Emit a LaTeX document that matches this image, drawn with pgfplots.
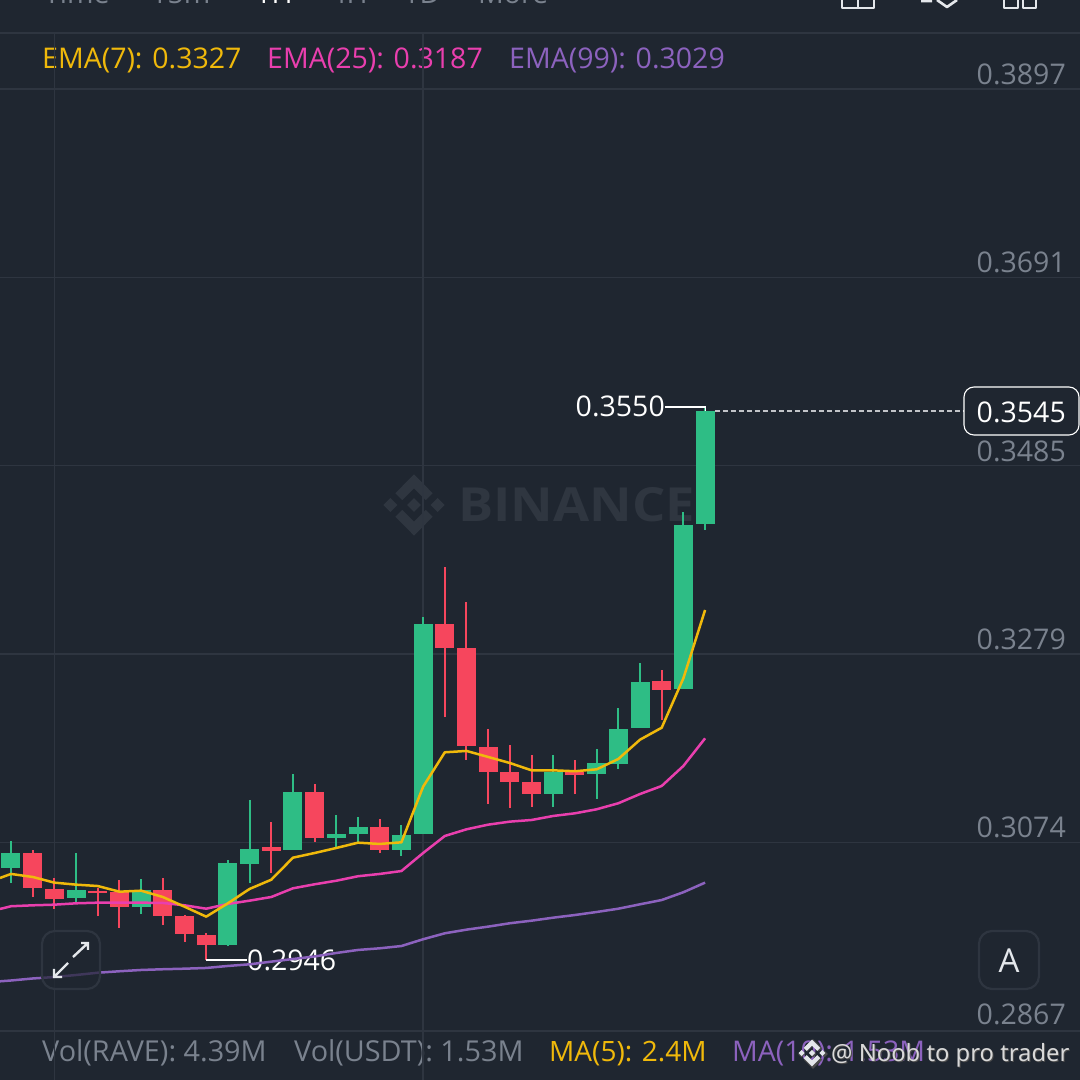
\documentclass[border=0pt]{standalone}
\usepackage{fontspec}
\setmainfont{Open Sans}
\newfontfamily\wmfont{Noto Sans}
\usepackage{graphicx}
\usepackage{pgfplots}
\pgfplotsset{compat=1.18}
\definecolor{bg}{HTML}{1F2630}
\definecolor{gridc}{HTML}{2E3540}
\definecolor{up}{HTML}{2EBD85}
\definecolor{dn}{HTML}{F6465D}
\definecolor{ema7}{HTML}{F0B90B}
\definecolor{ema25}{HTML}{E93FAE}
\definecolor{ema99}{HTML}{8C62BE}
\definecolor{dim}{HTML}{7A828E}
\definecolor{wmc}{HTML}{2F3640}
\definecolor{iconw}{HTML}{E4E7EB}
% candle: colour, index, low, bottom of body, top of body, high
\newcommand\candle[6]{%
\addplot[#1,line width=2pt,line cap=butt] coordinates {(#2,#3)(#2,#6)};%
\addplot[#1,line width=19pt,line cap=butt] coordinates {(#2,#4)(#2,#5)};}
\newcommand\fs[1]{\fontsize{#1}{#1}\selectfont}
% Binance logo: centre x, centre y, scale, colour
\newcommand\binlogo[4]{\begin{scope}[shift={(#1pt,-#2pt)},x=#3pt,y=#3pt]
\fill[#4] (-24.57,10.1)--(0,34.67)--(24.58,10.09)--(38.87,24.38)--(0,63.3)--(-38.86,24.4)--cycle;
\fill[#4] (-24.57,-10.11)--(0,-34.68)--(24.58,-10.11)--(38.88,-24.39)--(0,-63.3)--(-38.86,-24.41)--cycle;
\fill[#4] (-63.3,0)--(-49,14.3)--(-34.7,0)--(-49,-14.3)--cycle;
\fill[#4] (63.3,0)--(49,14.3)--(34.7,0)--(49,-14.3)--cycle;
\fill[#4] (-14.3,0)--(0,14.3)--(14.3,0)--(0,-14.3)--cycle;
\end{scope}}
\begin{document}
\begin{tikzpicture}
\clip (0pt,0pt) rectangle (1080pt,1080pt);
\fill[bg] (0pt,0pt) rectangle (1080pt,1080pt);
\begin{scope}[yshift=1080pt]
\binlogo{414}{505}{0.482}{wmc}
\end{scope}
\begin{scope}[x=1pt,y=-1pt,yshift=1080pt]
\node[anchor=base west,inner sep=0pt,text=wmc] at (458,522) {\fs{47}\bfseries\scalebox{1.115}[1]{BINANCE}};
\draw[gridc,line width=2.5pt] (0,33)--(1080,33);
% top bar
\node[anchor=base west,inner sep=0pt,text=dim] at (44,3.5) {\fs{28.5}Time};
\node[anchor=base west,inner sep=0pt,text=dim] at (151,3.5) {\fs{28.5}15m};
\node[anchor=base west,inner sep=0pt,text=white] at (255,3.5) {\fs{28.5}1H};
\node[anchor=base west,inner sep=0pt,text=dim] at (330,3.5) {\fs{28.5}4H};
\node[anchor=base west,inner sep=0pt,text=dim] at (403,3.5) {\fs{28.5}1D};
\node[anchor=base west,inner sep=0pt,text=dim] at (478,3.5) {\fs{28.5}More};
\draw[iconw,line width=2.6pt,line join=round] (842,0)--(842,8)--(858,8)--(858,0) (858,8)--(874,8)--(874,0);
\draw[iconw,line width=2.6pt,line join=round] (921,1)--(932,1) (937,0)--(947,7)--(957,0);
\draw[iconw,line width=2.6pt,line join=round] (1004,0)--(1004,8)--(1018,8)--(1018,0) (1023,0)--(1023,8)--(1036,8)--(1036,0);
% legend
\node[anchor=base west,inner sep=0pt,text=ema7] at (42,69) {\fs{28.5}EMA(7): 0.3327};
\node[anchor=base west,inner sep=0pt,text=ema25] at (267,69) {\fs{28.5}EMA(25): 0.3187};
\node[anchor=base west,inner sep=0pt,text=ema99] at (509,69) {\fs{28.5}EMA(99): 0.3029};
% price axis
\foreach \b/\t in {85/0.3897,273/0.3691,462/0.3485,650/0.3279,838/0.3074,1024/0.2867}
  \node[anchor=base east,inner sep=0pt,text=dim] at (1066,\b) {\fs{28.5}\t};
% value labels
\node[anchor=base west,inner sep=0pt,text=white] at (247,971) {\fs{28.5}0.2946};
\node[anchor=base east,inner sep=0pt,text=white] at (665,417) {\fs{28.5}0.3550};
% bottom row
\node[anchor=base west,inner sep=0pt,text=dim] at (42,1061) {\fs{28.8}Vol(RAVE): 4.39M};
\node[anchor=base west,inner sep=0pt,text=dim] at (294,1061) {\fs{28.8}Vol(USDT): 1.53M};
\node[anchor=base west,inner sep=0pt,text=ema7] at (549,1061) {\fs{28}MA(5): 2.4M};
\node[anchor=base west,inner sep=0pt,text=ema99] at (732,1061) {\fs{28.5}MA(10): 1.53M};
\end{scope}
\begin{axis}[
  at={(0pt,0pt)},anchor=south west,
  scale only axis,width=1080pt,height=1047pt,
  xmin=-0.507,xmax=49.285,ymin=0.28134,ymax=0.39582,
  axis line style={draw=none},
  xtick={2,19},ytick={0.2867,0.3073,0.3279,0.3485,0.3691,0.3897},
  xticklabels={},yticklabels={},
  major tick length=0pt,
  grid=major,grid style={gridc,line width=1.4pt},
]
\candle{up}{0}{.30288}{.30456}{.30616}{.30748}
\candle{dn}{1}{.30135}{.30237}{.30616}{.30649}
\candle{dn}{2}{.30004}{.30113}{.30223}{.30343}
\candle{up}{3}{.30081}{.30124}{.30212}{.30616}
\candle{dn}{4}{.29927}{.30176}{.30201}{.30234}
\candle{dn}{5}{.29796}{.30026}{.30190}{.30321}
\candle{up}{6}{.29949}{.30026}{.30212}{.30332}
\candle{dn}{7}{.29829}{.29927}{.30212}{.30343}
\candle{dn}{8}{.29643}{.29731}{.29927}{.29938}
\candle{dn}{9}{.29446}{.29610}{.29720}{.29742}
\candle{up}{10}{.29599}{.29610}{.30507}{.30540}
\candle{up}{11}{.30288}{.30496}{.30660}{.31196}
\candle{dn}{12}{.30398}{.30638}{.30682}{.30955}
\candle{up}{13}{.30649}{.30649}{.31283}{.31480}
\candle{dn}{14}{.30737}{.30780}{.31283}{.31371}
\candle{up}{15}{.30682}{.30780}{.30824}{.31032}
\candle{up}{16}{.30737}{.30824}{.30901}{.31010}
\candle{dn}{17}{.30616}{.30649}{.30901}{.30991}
\candle{up}{18}{.30583}{.30649}{.30813}{.30922}
\candle{up}{19}{.30824}{.30824}{.33120}{.33197}
\candle{dn}{20}{.32103}{.32858}{.33120}{.33743}
\candle{dn}{21}{.31633}{.31786}{.32858}{.33361}
\candle{dn}{22}{.31152}{.31502}{.31775}{.31972}
\candle{dn}{23}{.31108}{.31393}{.31502}{.31797}
\candle{dn}{24}{.31119}{.31261}{.31393}{.31688}
\candle{up}{25}{.31119}{.31261}{.31502}{.31688}
\candle{dn}{26}{.31261}{.31469}{.31502}{.31633}
\candle{up}{27}{.31207}{.31480}{.31600}{.31753}
\candle{up}{28}{.31535}{.31589}{.31972}{.32202}
\candle{up}{29}{.31983}{.31983}{.32486}{.32694}
\candle{dn}{30}{.32071}{.32399}{.32497}{.32617}
\candle{up}{31}{.32409}{.32409}{.34203}{.34345}
\candle{up}{32}{.34148}{.34214}{.35449}{.35493}
% EMA(99)
\addplot[ema99,line width=2.5pt,line join=round] coordinates {(-0.507,.29213)(0,.29222)(1,.29244)(2,.29260)(3,.29282)(4,.29307)(5,.29323)(6,.29337)(7,.29345)(8,.29351)(9,.29359)(10,.29381)(11,.29399)(12,.29428)(13,.29457)(14,.29485)(15,.29523)(16,.29556)(17,.29574)(18,.29599)(19,.29673)(20,.29738)(21,.29778)(22,.29811)(23,.29848)(24,.29876)(25,.29909)(26,.29938)(27,.29971)(28,.30007)(29,.30055)(30,.30102)(31,.30187)(32,.30292)};
% EMA(25)
\addplot[ema25,line width=2.5pt,line join=round] coordinates {(-0.507,.30004)(0,.30034)(1,.30044)(2,.30051)(3,.30066)(4,.30073)(5,.30073)(6,.30073)(7,.30070)(8,.30044)(9,.30007)(10,.30059)(11,.30095)(12,.30135)(13,.30230)(14,.30274)(15,.30313)(16,.30362)(17,.30387)(18,.30419)(19,.30616)(20,.30802)(21,.30875)(22,.30926)(23,.30959)(24,.30977)(25,.31021)(26,.31050)(27,.31094)(28,.31160)(29,.31261)(30,.31349)(31,.31568)(32,.31870)};
% EMA(7)
\addplot[ema7,line width=2.5pt,line join=round] coordinates {(-0.507,.30343)(0,.30387)(1,.30354)(2,.30292)(3,.30270)(4,.30255)(5,.30193)(6,.30204)(7,.30135)(8,.30029)(9,.29920)(10,.30066)(11,.30223)(12,.30324)(13,.30565)(14,.30616)(15,.30671)(16,.30729)(17,.30715)(18,.30733)(19,.31341)(20,.31717)(21,.31732)(22,.31666)(23,.31600)(24,.31520)(25,.31520)(26,.31510)(27,.31531)(28,.31644)(29,.31855)(30,.31986)(31,.32527)(32,.33273)};
% leaders and last price line
\addplot[white,line width=1.1pt] coordinates {(9,.29446)(10.88,.29446)};
\addplot[white,line width=1.1pt] coordinates {(30.15,.35493)(32,.35493)(32,.35449)};
\addplot[iconw!85!black,line width=1.1pt,dash pattern=on 5pt off 3pt] coordinates {(32.45,.35449)(43.89,.35449)};
\end{axis}
\begin{scope}[x=1pt,y=-1pt,yshift=1080pt]
% price tag
\draw[white,line width=1.1pt,fill=bg,rounded corners=10pt] (964,387) rectangle (1079,435);
\node[anchor=base east,inner sep=0pt,text=white] at (1066,423) {\fs{28.5}0.3545};
% expand button
\draw[draw=gridc,line width=2.2pt,fill=bg,fill opacity=0.7,rounded corners=13pt] (42,931) rectangle (100,989);
\draw[iconw,line width=2.4pt] (73,957)--(88,943) (81,943)--(88,943)--(88,950);
\draw[iconw,line width=2.4pt] (68,963)--(54,977) (54,969)--(54,977)--(62,977);
% A button
\draw[gridc,line width=2.2pt,rounded corners=13pt] (979,931) rectangle (1039,989);
\node[anchor=base,inner sep=0pt,text=iconw] at (1009,973) {\fs{33}A};
\end{scope}
\begin{scope}[yshift=1080pt]
\binlogo{813}{1054}{0.235}{black!70}
\binlogo{812}{1053}{0.213}{iconw}
\end{scope}
\begin{scope}[x=1pt,y=-1pt,yshift=1080pt]
\node[anchor=base west,inner sep=0pt,text=black!70] at (832,1063) {\wmfont\fs{23.8}@ Noob to pro trader};
\node[anchor=base west,inner sep=0pt,text=white!85!black] at (831,1062) {\wmfont\fs{23.8}@ Noob to pro trader};
\end{scope}
\end{tikzpicture}
\end{document}
